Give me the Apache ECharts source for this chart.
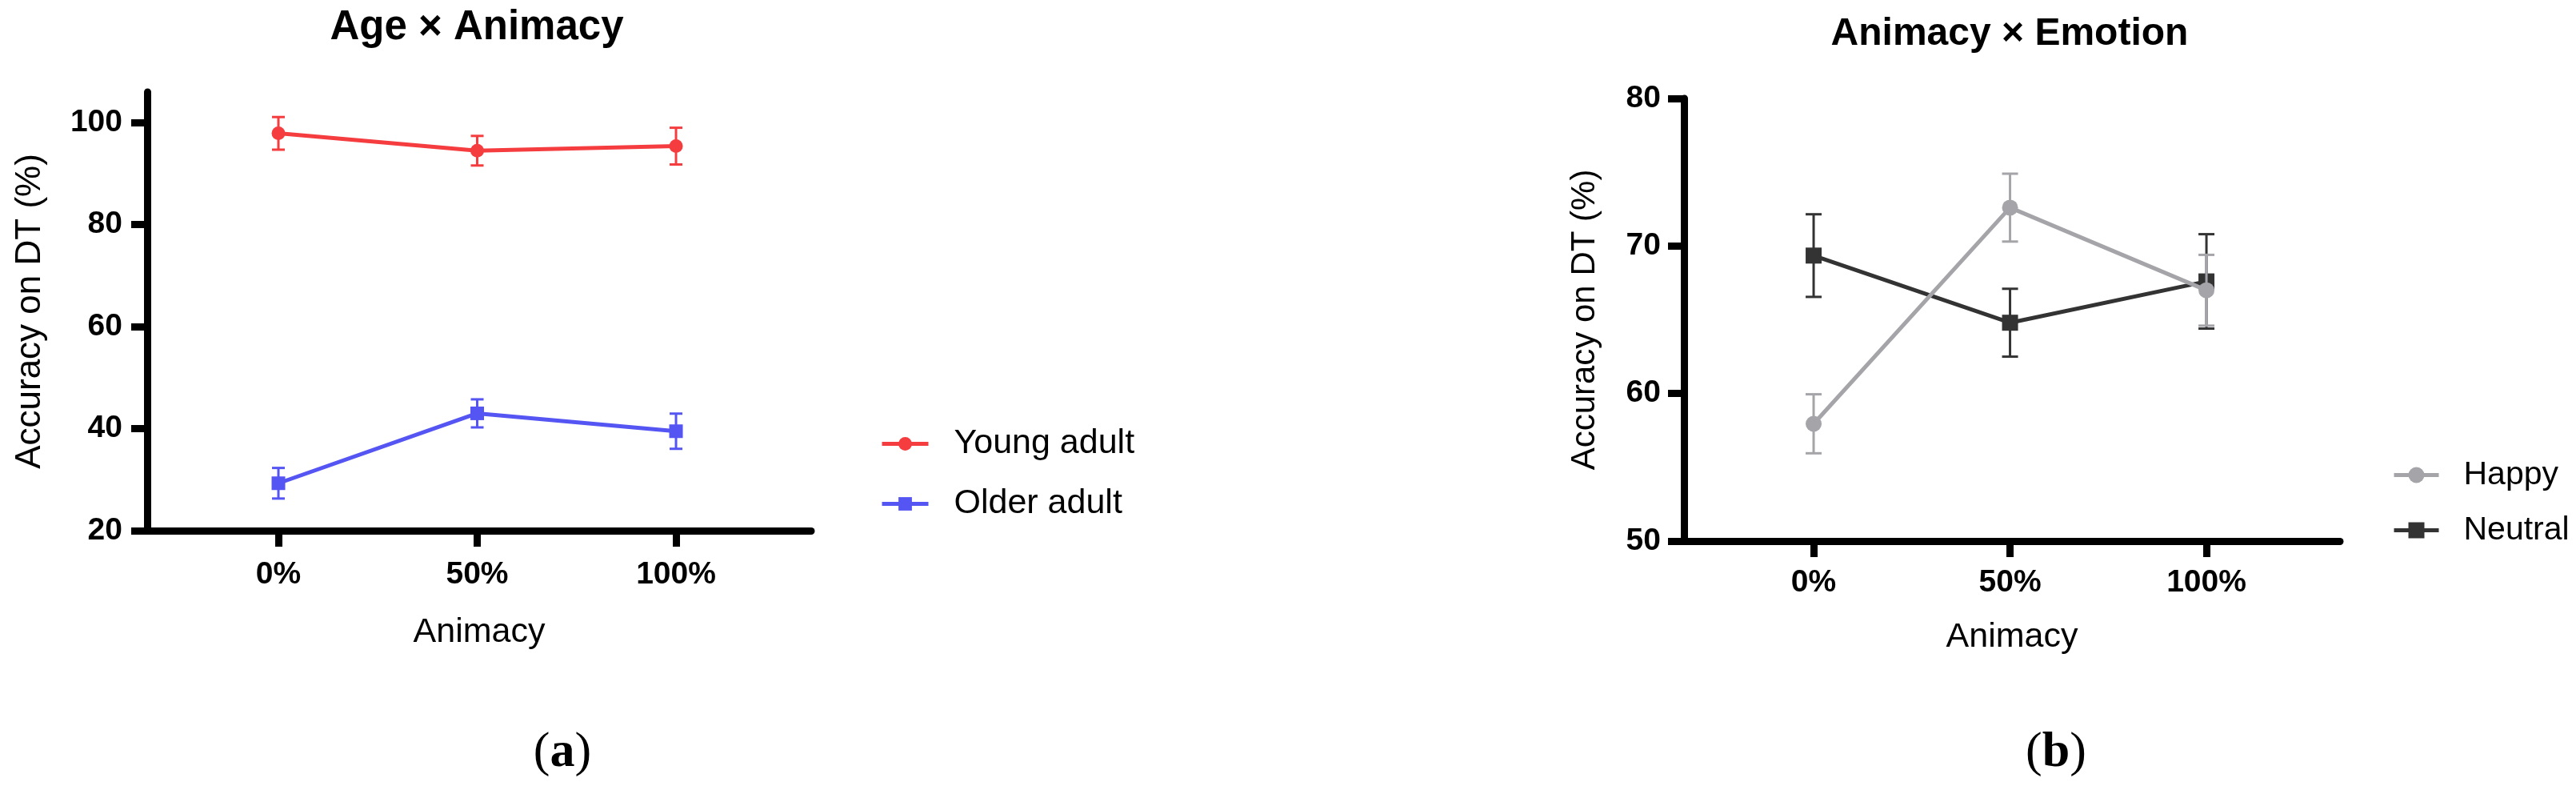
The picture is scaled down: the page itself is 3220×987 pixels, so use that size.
<!DOCTYPE html>
<html>
<head>
<meta charset="utf-8">
<script src="https://cdn.jsdelivr.net/npm/echarts@6/dist/echarts.min.js"></script>
<style>
html,body{margin:0;padding:0;background:#fff;}
#chart{width:3220px;height:987px;}
</style>
</head>
<body>
<div id="chart"></div>
<script>
// ---- data ----
const categories = ['0%', '50%', '100%'];
const catPos = [0, 1, 2];

const youngMean = [97.9, 94.5, 95.4];
const youngErr = [3.2, 2.9, 3.6];
const olderMean = [29.3, 43.0, 39.5];
const olderErr = [3.0, 2.75, 3.45];

const happyMean = [57.95, 72.6, 67.0];
const happyErr = [2.0, 2.3, 2.4];
const neutralMean = [69.35, 64.8, 67.6];
const neutralErr = [2.8, 2.3, 3.2];

const yTicksA = [20, 40, 60, 80, 100];
const yTicksB = [50, 60, 70, 80];

// ---- styles ----
const FONT = "'Liberation Sans', Arial, sans-serif";
const RED = '#F53D40';
const BLUE = '#5555F3';
const GRAY = '#A5A5A9';
const DARK = '#333333';

function pts(mean) { return mean.map((v, i) => [catPos[i], v]); }
function errData(mean, err) { return mean.map((v, i) => [catPos[i], v - err[i], v + err[i]]); }

function errSeries(name, mean, err, color, gi, capHalf, z) {
  return {
    name: name, type: 'custom', xAxisIndex: gi, yAxisIndex: gi, z: z,
    encode: { x: 0, y: [1, 2] },
    data: errData(mean, err),
    silent: true,
    renderItem: function (params, api) {
      const x = api.value(0);
      const lo = api.coord([x, api.value(1)]);
      const hi = api.coord([x, api.value(2)]);
      const st = { stroke: color, lineWidth: 3 };
      return {
        type: 'group',
        children: [
          { type: 'line', shape: { x1: hi[0], y1: hi[1], x2: lo[0], y2: lo[1] }, style: st },
          { type: 'line', shape: { x1: hi[0] - capHalf, y1: hi[1], x2: hi[0] + capHalf, y2: hi[1] }, style: st },
          { type: 'line', shape: { x1: lo[0] - capHalf, y1: lo[1], x2: lo[0] + capHalf, y2: lo[1] }, style: st }
        ]
      };
    }
  };
}

function lineSeries(name, mean, color, symbol, size, gi, z) {
  return {
    name: name, type: 'line', xAxisIndex: gi, yAxisIndex: gi, z: z,
    data: pts(mean),
    symbol: symbol, symbolSize: size,
    itemStyle: { color: color },
    lineStyle: { color: color, width: 5 },
    showSymbol: true,
    animation: false
  };
}

function xAxisCfg(gi, margin, nameGap) {
  return {
    type: 'value', gridIndex: gi, min: -0.66, max: 2.68,
    name: 'Animacy', nameLocation: 'middle', nameGap: nameGap,
    nameTextStyle: { fontFamily: FONT, fontSize: 43, color: '#000' },
    axisLine: { show: true, onZero: false, lineStyle: { color: '#000', width: 9 } },
    axisTick: { show: true, customValues: catPos, length: 20, lineStyle: { color: '#000', width: 9 } },
    axisLabel: {
      customValues: catPos, margin: margin,
      formatter: function (v) { return categories[Math.round(v)]; },
      fontFamily: FONT, fontWeight: 'bold', fontSize: 39, color: '#000'
    },
    splitLine: { show: false }
  };
}

function yAxisCfg(gi, min, max, interval, ticks, margin, nameGap, nameSize) {
  return {
    type: 'value', gridIndex: gi, min: min, max: max, interval: interval,
    name: 'Accuracy on DT (%)', nameLocation: 'middle', nameGap: nameGap,
    nameTextStyle: { fontFamily: FONT, fontSize: nameSize, color: '#000' },
    axisLine: { show: true, onZero: false, lineStyle: { color: '#000', width: 9 } },
    axisTick: { show: true, customValues: ticks, length: 20, lineStyle: { color: '#000', width: 9 } },
    axisLabel: {
      customValues: ticks, margin: margin,
      fontFamily: FONT, fontWeight: 'bold', fontSize: 39, color: '#000'
    },
    splitLine: { show: false }
  };
}

const chart = echarts.init(document.getElementById('chart'), null, { renderer: 'canvas' });

const option = {
  backgroundColor: '#ffffff',
  animation: false,
  grid: [
    { left: 184, top: 115, width: 830, height: 548 },
    { left: 2105, top: 123, width: 820, height: 553 }
  ],
  xAxis: [xAxisCfg(0, 36, 106), xAxisCfg(1, 33, 99)],
  yAxis: [yAxisCfg(0, 20, 106, 20, yTicksA, 31, 124, 44), yAxisCfg(1, 50, 80, 10, yTicksB, 29, 103, 42)],
  legend: [
    {
      data: ['Young adult', 'Older adult'],
      orient: 'vertical', left: 1100, top: 533, padding: 0,
      itemWidth: 58, itemHeight: 21, itemGap: 32,
      lineStyle: { width: 5 },
      textStyle: { fontFamily: FONT, fontSize: 43, color: '#000', lineHeight: 43, padding: [0, 0, 0, 27] },
      selectedMode: false
    },
    {
      data: ['Happy', 'Neutral'],
      orient: 'vertical', left: 2990, top: 573, padding: 0,
      itemWidth: 56, itemHeight: 25, itemGap: 28,
      lineStyle: { width: 5 },
      textStyle: { fontFamily: FONT, fontSize: 41, color: '#000', lineHeight: 41, padding: [0, 0, 0, 26] },
      selectedMode: false
    }
  ],
  graphic: [
    { type: 'text', x: 596, y: 9, style: { text: 'Age × Animacy', font: "bold 51px 'Liberation Sans', Arial, sans-serif", fill: '#000', align: 'center', verticalAlign: 'top' } },
    { type: 'text', x: 2512, y: 19, style: { text: 'Animacy × Emotion', font: "bold 48px 'Liberation Sans', Arial, sans-serif", fill: '#000', align: 'center', verticalAlign: 'top' } },
    { type: 'text', x: 703, y: 941, style: {
        text: '{p|(}{b|a}{p|)}', align: 'center', verticalAlign: 'middle',
        rich: {
          p: { fontFamily: "'Liberation Serif', 'Times New Roman', serif", fontSize: 62, fill: '#000' },
          b: { fontFamily: "'Liberation Serif', 'Times New Roman', serif", fontSize: 62, fontWeight: 'bold', fill: '#000' }
        } } },
    { type: 'text', x: 2570, y: 941, style: {
        text: '{p|(}{b|b}{p|)}', align: 'center', verticalAlign: 'middle',
        rich: {
          p: { fontFamily: "'Liberation Serif', 'Times New Roman', serif", fontSize: 62, fill: '#000' },
          b: { fontFamily: "'Liberation Serif', 'Times New Roman', serif", fontSize: 62, fontWeight: 'bold', fill: '#000' }
        } } }
  ],
  series: [
    errSeries('Young adult err', youngMean, youngErr, RED, 0, 8, 2),
    lineSeries('Young adult', youngMean, RED, 'circle', 17, 0, 3),
    errSeries('Older adult err', olderMean, olderErr, BLUE, 0, 8, 2),
    lineSeries('Older adult', olderMean, BLUE, 'rect', 17, 0, 3),
    errSeries('Neutral err', neutralMean, neutralErr, DARK, 1, 10, 2),
    lineSeries('Neutral', neutralMean, DARK, 'rect', 20, 1, 3),
    errSeries('Happy err', happyMean, happyErr, GRAY, 1, 10, 4),
    lineSeries('Happy', happyMean, GRAY, 'circle', 20, 1, 5)
  ]
};

chart.setOption(option);
</script>
</body>
</html>
